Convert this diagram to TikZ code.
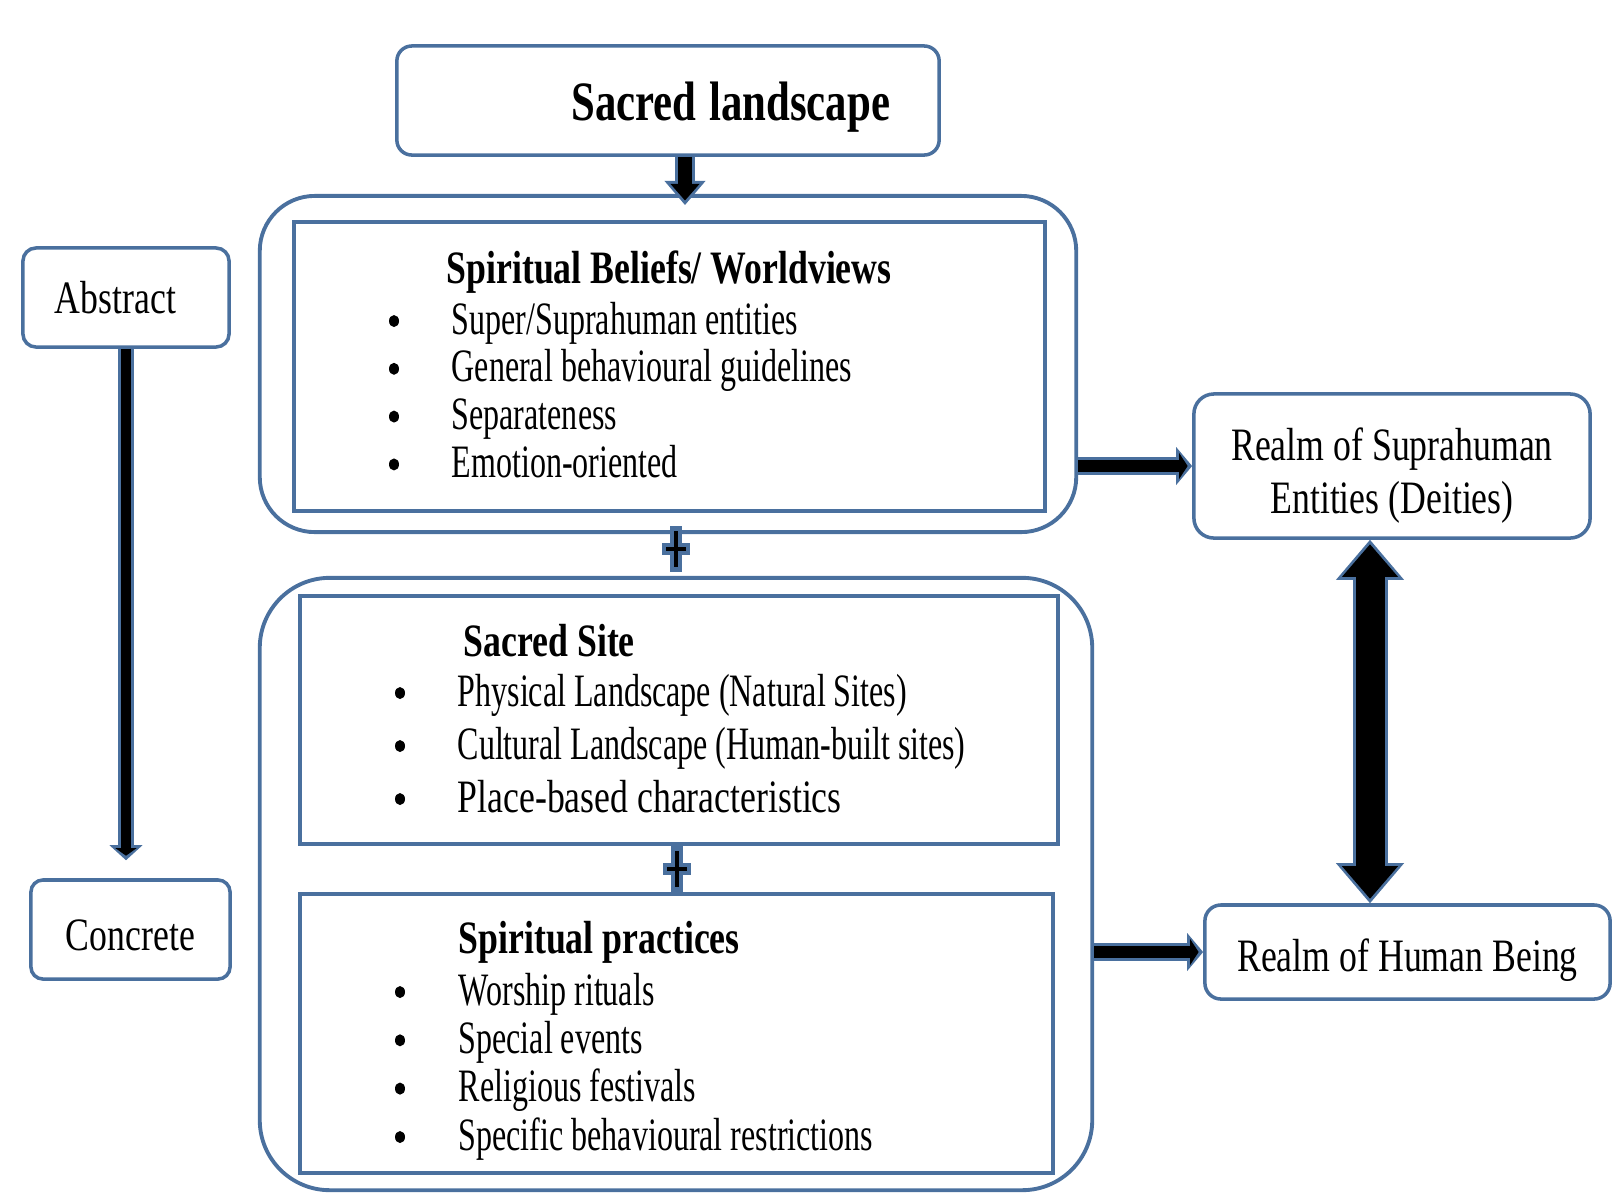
\documentclass[tikz,border=0pt]{standalone}
\usepackage{fontspec}
\setmainfont{Liberation Serif}[FakeStretch=0.77]
\newfontfamily\listfont{Liberation Serif}[FakeStretch=0.69]
\usetikzlibrary{arrows.meta,calc}
\definecolor{linecol}{RGB}{74,112,158}
\newcommand{\basesize}{\fontsize{13.2pt}{14.2pt}\selectfont}

\tikzset{
  box/.style={draw=linecol, line width=1pt, rounded corners=#1, inner sep=0pt,
    align=center, font=\basesize},
  outerbox/.style={draw=linecol, line width=1.1pt, rounded corners=#1, inner sep=0pt},
  panel/.style={draw=linecol, line width=1.1pt, inner sep=0pt},
  heading/.style={anchor=base west, inner sep=0pt, font=\basesize\bfseries},
  items/.style={anchor=base west, inner sep=0pt,
    font=\listfont\fontsize{13.2pt}{#1}\selectfont},
  % block arrow: shaft, head width, head length (cm)
  fat/.style n args={3}{draw=linecol, line width=#1cm,
    -{Triangle[width=#2cm, length=#3cm, line width=0pt]},
    postaction={draw=black, line width=#1cm-0.06cm, shorten >=0.045cm,
      -{Triangle[width=#2cm-0.12cm, length=#3cm-0.075cm, line width=0pt]}}},
  fatboth/.style n args={3}{draw=linecol, line width=#1cm,
    {Triangle[width=#2cm, length=#3cm, line width=0pt]}-{Triangle[width=#2cm, length=#3cm, line width=0pt]},
    postaction={draw=black, line width=#1cm-0.06cm, shorten >=0.045cm, shorten <=0.045cm,
      {Triangle[width=#2cm-0.12cm, length=#3cm-0.075cm, line width=0pt]}-{Triangle[width=#2cm-0.12cm, length=#3cm-0.075cm, line width=0pt]}}},
  pics/plusmark/.style={code={
    \fill[linecol] (-6,-23) rectangle (6,23);
    \fill[linecol] (-14,-6) rectangle (14,6);
    \draw[black, line width=1.1pt] (0,-18) -- (0,18) (-10,0) -- (10,0);
  }},
}

\begin{document}
\begin{tikzpicture}[x=0.01cm, y=-0.01cm]
  \useasboundingbox (0,0) rectangle (1618,1193);

  % Top box
  \node[box=0.15cm, minimum height=1.09cm, text width=4.44cm, inner xsep=0.49cm,
    align=right, text height=15pt, text depth=3.5pt,
    font=\fontsize{15.8pt}{17pt}\selectfont\bfseries] (sacred) at (668,100.5)
    {\spaceskip=3.7pt\relax Sacred landscape};

  % Rounded frames
  \node[outerbox=0.55cm, minimum width=8.16cm, minimum height=3.36cm] (outerA) at (668,364) {};
  \node[outerbox=0.7cm, minimum width=8.32cm, minimum height=6.12cm] (outerB) at (676,884) {};

  % Inner panels
  \node[panel, minimum width=7.51cm, minimum height=2.89cm] (beliefs) at (669.5,366.5) {};
  \node[panel, minimum width=7.58cm, minimum height=2.48cm] (site) at (679,720) {};
  \node[panel, minimum width=7.53cm, minimum height=2.79cm] (practice) at (676.5,1033.5) {};

  % Panel texts
  \node[heading] (beliefsHead) at (446,283) {Spiritual Beliefs/ Worldviews};
  \node[items=13.6pt] (beliefsList) at (451,334) {\begin{tabular}[t]{@{}l@{}}
    Super/Suprahuman entities\\
    General behavioural guidelines\\
    Separateness\\
    Emotion-oriented
  \end{tabular}};

  \node[heading] (siteHead) at (463,656) {Sacred Site};
  \node[items=15.1pt] (siteList) at (457,706) {\begin{tabular}[t]{@{}l@{}}
    Physical Landscape (Natural Sites)\\
    Cultural Landscape (Human-built sites)\\
    {\rmfamily Place-based characteristics}
  \end{tabular}};

  \node[heading] (practiceHead) at (458,953) {Spiritual practices};
  \node[items=13.75pt] (practiceList) at (458,1005) {\begin{tabular}[t]{@{}l@{}}
    Worship rituals\\
    Special events\\
    Religious festivals\\
    Specific behavioural restrictions
  \end{tabular}};

  % Bullets
  \foreach \y in {321,368.8,416.6,464.4} \fill (394,\y) ellipse (0.05cm and 0.06cm);
  \foreach \y in {693,746,799} \fill (400,\y) ellipse (0.05cm and 0.06cm);
  \foreach \y in {992,1040.3,1088.6,1137} \fill (400,\y) ellipse (0.05cm and 0.06cm);

  % Side boxes
  \node[box=0.13cm, minimum height=0.99cm, text width=1.42cm, inner xsep=0.32cm,
    align=left] (abstract) at (126,297.5) {Abstract};
  \node[box=0.12cm, minimum width=1.99cm, minimum height=0.99cm,
    text height=12pt, text depth=0pt] (concrete) at (130.5,929.5) {Concrete};
  \node[box=0.2cm, minimum width=3.96cm, minimum height=1.44cm,
    text height=29.7pt, text depth=2.9pt,
    font=\fontsize{13.2pt}{14.9pt}\selectfont] (supra) at (1392,466)
    {Realm of Suprahuman\\Entities (Deities)};
  \node[box=0.16cm, minimum width=4.05cm, minimum height=0.94cm,
    text height=13.7pt, text depth=2.9pt] (human) at (1407.5,952)
    {Realm of Human Being};

  % Plus signs
  \pic at (676,549) {plusmark};
  \pic at (677,869) {plusmark};

  % Block arrows
  \draw[fat={0.20}{0.41}{0.24}] ($(sacred.south)+(17,0)$) -- ($(outerA.north)+(17,11)$);
  \draw[fat={0.15}{0.33}{0.15}] (abstract.south) -- ($(abstract.south |- concrete.north)+(0,-18)$);
  \draw[fat={0.18}{0.38}{0.16}] (outerA.east |- supra.west) -- (supra.west);
  \draw[fat={0.18}{0.38}{0.16}] (outerB.east |- human.west) -- (human.west);
  \draw[fatboth={0.35}{0.68}{0.40}] ($(supra.south)+(-22,0)$) -- ($(supra.south |- human.north)+(-22,0)$);
\end{tikzpicture}
\end{document}
